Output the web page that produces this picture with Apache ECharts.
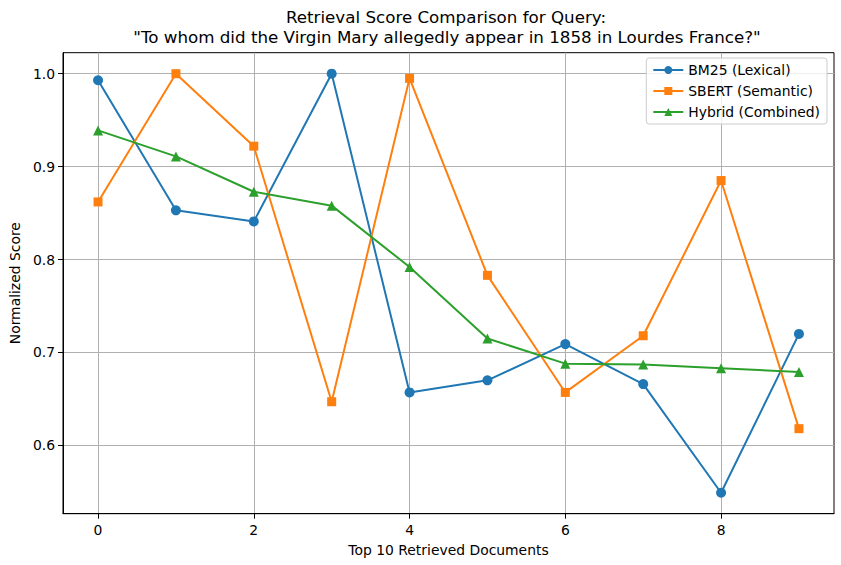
<!DOCTYPE html>
<html>
<head>
<meta charset="utf-8">
<script src="https://cdn.jsdelivr.net/npm/echarts@6/dist/echarts.min.js"></script>
<style>
html,body{margin:0;padding:0;background:#fff;}
#c{width:841px;height:565px;}
</style>
</head>
<body>
<div id="c"></div>
<script>
const docs = [0,1,2,3,4,5,6,7,8,9];
const bm25 = [0.993, 0.853, 0.841, 1.000, 0.657, 0.670, 0.709, 0.666, 0.549, 0.720];
const sbert = [0.862, 1.000, 0.922, 0.647, 0.995, 0.783, 0.657, 0.718, 0.885, 0.618];
const hybrid = [0.939, 0.911, 0.873, 0.858, 0.792, 0.715, 0.688, 0.687, 0.683, 0.679];
const xTicks = [0,2,4,6,8];
const yTicks = [0.6,0.7,0.8,0.9,1.0];
const titleLines = ['Retrieval Score Comparison for Query:', '"To whom did the Virgin Mary allegedly appear in 1858 in Lourdes France?"'];

const font = 'DejaVu Sans';
const chart = echarts.init(document.getElementById('c'), null, {renderer:'svg'});
const pair = arr => docs.map((d,i)=>[d, arr[i]]);
const mk = (name, data, color, symbol, size) => ({
  name, type:'line', data: pair(data), symbol, symbolSize:size,
  lineStyle:{color, width:2}, itemStyle:{color}, color,
  showSymbol:true, animation:false, z: 3
});
chart.setOption({
  animation:false,
  backgroundColor:'#fff',
  textStyle:{fontFamily:font},
  graphic:[
    {type:'text', x:446, y:8, style:{text:titleLines[0], font:'16.7px "DejaVu Sans"', fill:'#000', textAlign:'center', textVerticalAlign:'top'}},
    {type:'text', x:447, y:28, style:{text:titleLines[1], font:'16.7px "DejaVu Sans"', fill:'#000', textAlign:'center', textVerticalAlign:'top'}}
  ],
  grid:{left:59.3, right:7, top:52.7, bottom:51.3, show:true, borderColor:'#000', borderWidth:1, backgroundColor:'transparent'},
  legend:{
    orient:'vertical', right:14, top:58, itemWidth:30, itemHeight:10, itemGap:7,
    padding:[5,7,5,6], backgroundColor:'rgba(255,255,255,0.8)', borderColor:'#cccccc', borderWidth:1, borderRadius:3,
    textStyle:{fontFamily:font, fontSize:13.9, color:'#000'},
    data:['BM25 (Lexical)','SBERT (Semantic)','Hybrid (Combined)']
  },
  xAxis:{
    type:'value', min:-0.45, max:9.45,
    name:'Top 10 Retrieved Documents', nameLocation:'middle', nameGap:29,
    nameTextStyle:{fontFamily:font, fontSize:13.9, color:'#000'},
    axisLine:{show:true, onZero:false, lineStyle:{color:'#000', width:1}},
    axisTick:{show:true, length:5, inside:false, customValues:xTicks, lineStyle:{color:'#000'}},
    axisLabel:{customValues:xTicks, margin:9, fontFamily:font, fontSize:13.9, color:'#000'},
    splitLine:{show:true, lineStyle:{color:'#b0b0b0', width:1}}
  },
  yAxis:{
    type:'value', min:0.5265, max:1.0226,
    name:'Normalized Score', nameLocation:'middle', nameGap:38, nameRotate:90,
    nameTextStyle:{fontFamily:font, fontSize:13.9, color:'#000'},
    axisLine:{show:true, onZero:false, lineStyle:{color:'#000', width:1}},
    axisTick:{show:true, length:5, inside:false, customValues:yTicks, lineStyle:{color:'#000'}},
    axisLabel:{customValues:yTicks, margin:8, fontFamily:font, fontSize:13.9, color:'#000', formatter:v=>v.toFixed(1)},
    splitLine:{show:true, lineStyle:{color:'#b0b0b0', width:1}}
  },
  series:[
    mk('BM25 (Lexical)', bm25, '#1f77b4', 'circle', 10),
    mk('SBERT (Semantic)', sbert, '#ff7f0e', 'rect', 9),
    mk('Hybrid (Combined)', hybrid, '#2ca02c', 'triangle', 10)
  ]
});
</script>
</body>
</html>
